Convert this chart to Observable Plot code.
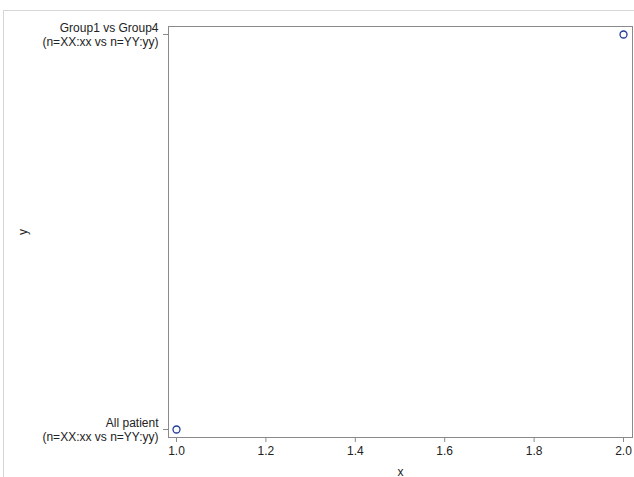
<!DOCTYPE html>
<html>
<head>
<meta charset="utf-8">
<script src="https://cdn.jsdelivr.net/npm/d3@7"></script>
<script src="https://cdn.jsdelivr.net/npm/@observablehq/plot@0.6"></script>
<style>
  html, body { margin: 0; padding: 0; background: #fff; }
  #wrap { position: relative; width: 634px; height: 477px; overflow: hidden; }
  #border { position: absolute; left: 3px; top: 10px; right: -2px; bottom: -2px; border-top: 1px solid #d6d6d6; border-left: 1px solid #d6d6d6; }
  #chart { position: absolute; left: 0; top: 0; }
</style>
</head>
<body>
<div id="wrap"><div id="border"></div><div id="chart"></div></div>
<script>
const categories = ["All patient", "Group1 vs Group4"];
const subLabels = ["(n=XX:xx vs n=YY:yy)", "(n=XX:xx vs n=YY:yy)"];
const xValues = [1.0, 2.0];
const xTicks = [1.0, 1.2, 1.4, 1.6, 1.8, 2.0];

const data = categories.map((c, i) => ({x: xValues[i], y: c}));
const labelMap = new Map(categories.map((c, i) => [c, c + "\n" + subLabels[i]]));

const chart = Plot.plot({
  width: 634,
  height: 477,
  marginLeft: 168,
  marginRight: 2,
  marginTop: 26,
  marginBottom: 40,
  style: {fontFamily: "Liberation Sans, Arial, sans-serif", fontSize: "12px", background: "transparent", color: "#222"},
  x: {domain: [0.9821, 2.0201]},
  y: {type: "point", domain: categories.slice().reverse(), padding: 0, inset: 8},
  marks: [
    Plot.frame({stroke: "#8a8a8a"}),
    Plot.axisX({ticks: xTicks, tickFormat: d => d.toFixed(1), tickSize: 5, tickPadding: 4, stroke: "#8a8a8a",
      label: "x", labelArrow: "none", labelAnchor: "center", labelOffset: 38}),
    Plot.axisY({tickFormat: d => labelMap.get(d), tickSize: 5, tickPadding: 5, stroke: "#8a8a8a", lineHeight: 1.2,
      label: "y", labelArrow: "none", labelAnchor: "center", labelOffset: 150}),
    Plot.dot(data, {x: "x", y: "y", r: 3.5, stroke: "#1f3d99", strokeWidth: 1.3, fill: "none"})
  ]
});
document.getElementById("chart").appendChild(chart);
</script>
</body>
</html>
